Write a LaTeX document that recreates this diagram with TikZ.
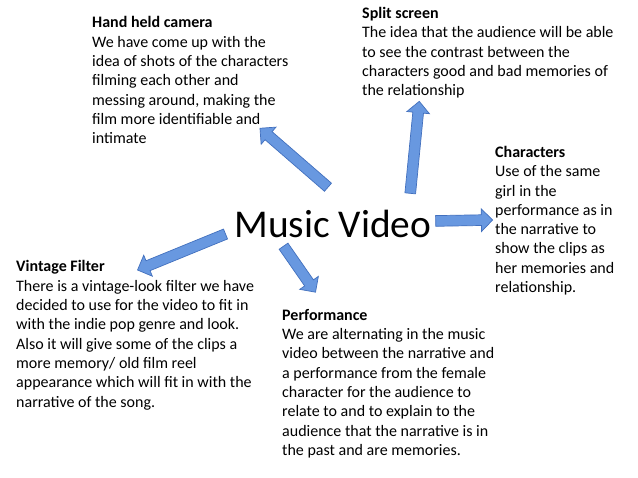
\documentclass[tikz,border=0pt]{standalone}
\usepackage{fontspec}
\setmainfont{Carlito}
\usetikzlibrary{shapes.arrows, calc}

\definecolor{arrowfill}{RGB}{104,152,224}
\definecolor{arrowline}{RGB}{66,112,190}

\begin{document}
\begin{tikzpicture}[x=1pt, y=-1pt,
  note/.style={anchor=north west, align=left, inner sep=0pt, font=\fontsize{16}{19.3}\selectfont},
  blockarrow/.style={single arrow, draw=arrowline, fill=arrowfill, line width=0.7pt, inner sep=5pt,
    single arrow head extend=6pt, single arrow head indent=0pt, allow upside down}]
\useasboundingbox[fill=white] (0,0) rectangle (638,478);

% Centre title
\node[inner sep=0pt, font=\fontsize{39.4}{44}\selectfont] (hub) at (333,224) {Music Video};

% Text blocks
\node[note] (camera) at (92,16.5) {\textbf{Hand held camera}\\We have come up with the\\idea of shots of the characters\\filming each other and\\messing around, making the\\film more identifiable and\\intimate};
\node[note] (split) at (362,7) {\textbf{Split screen}\\The idea that the audience will be able\\to see the contrast between the\\characters good and bad memories of\\the relationship};
\node[note] (chars) at (495,146) {\textbf{Characters}\\Use of the same\\girl in the\\performance as in\\the narrative to\\show the clips as\\her memories and\\relationship.};
\node[note] (vintage) at (16,260.5) {\textbf{Vintage Filter}\\There is a vintage-look filter we have\\decided to use for the video to fit in\\with the indie pop genre and look.\\Also it will give some of the clips a\\more memory/ old film reel\\appearance which will fit in with the\\narrative of the song.};
\node[note] (perf) at (282,309) {\textbf{Performance}\\We are alternating in the music\\video between the narrative and\\a performance from the female\\character for the audience to\\relate to and to explain to the\\audience that the narrative is in\\the past and are memories.};

% Arrow ends
\coordinate (camTail) at (330,189);
\coordinate (camTip) at (262,130);
\coordinate (splitTail) at (410,196);
\coordinate (splitTip) at (419,104);
\coordinate (charTail) at (433,221);
\coordinate (charTip) at (490,220);
\coordinate (vinTail) at (228,233);
\coordinate (vinTip) at (140,269);
\coordinate (perfTail) at (282,244);
\coordinate (perfTip) at (314,290);

% Block arrows
\path let \p1=($(camTip)-(camTail)$), \n1={veclen(\x1,\y1)} in (camTail) -- (camTip) node[midway, sloped, blockarrow, minimum height=\n1] {};
\path let \p1=($(splitTip)-(splitTail)$), \n1={veclen(\x1,\y1)} in (splitTail) -- (splitTip) node[midway, sloped, blockarrow, minimum height=\n1] {};
\path let \p1=($(charTip)-(charTail)$), \n1={veclen(\x1,\y1)} in (charTail) -- (charTip) node[midway, sloped, blockarrow, minimum height=\n1] {};
\path let \p1=($(vinTip)-(vinTail)$), \n1={veclen(\x1,\y1)} in (vinTail) -- (vinTip) node[midway, sloped, blockarrow, minimum height=\n1] {};
\path let \p1=($(perfTip)-(perfTail)$), \n1={veclen(\x1,\y1)} in (perfTail) -- (perfTip) node[midway, sloped, blockarrow, minimum height=\n1] {};
\end{tikzpicture}
\end{document}
